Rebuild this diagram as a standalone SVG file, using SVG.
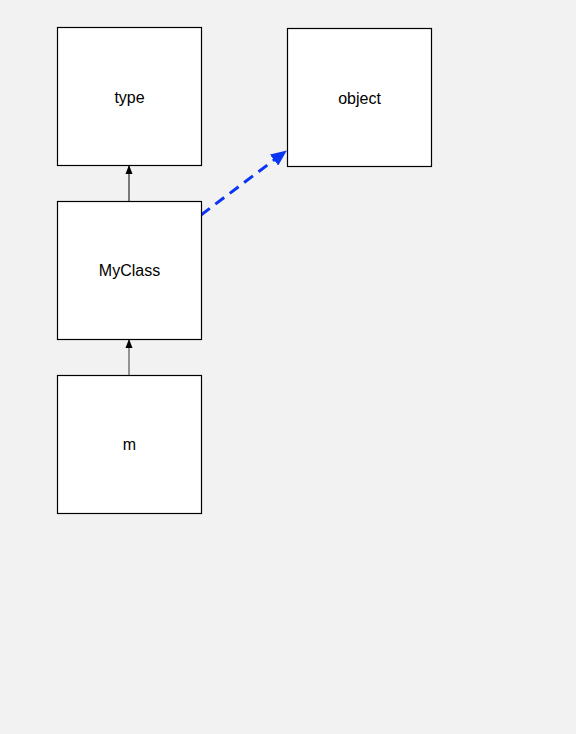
<svg xmlns="http://www.w3.org/2000/svg" width="576" height="734" viewBox="0 0 576 734">
<style>
.box{fill:#fff;stroke:#000;stroke-width:1.2}
.lbl{font-family:"Liberation Sans",Arial,sans-serif;font-size:16px;fill:#000;text-anchor:middle;dominant-baseline:central}
</style>
<defs>
<marker id="ah" markerWidth="9" markerHeight="8" refX="8" refY="4" orient="auto" markerUnits="userSpaceOnUse">
<path d="M0,0.5 L9,4 L0,7.5 Z" fill="#000"/>
</marker>
<marker id="bh" markerWidth="16" markerHeight="14" refX="15" refY="7" orient="auto" markerUnits="userSpaceOnUse">
<path d="M0,0 L16,7 L0,14 Z" fill="#0a35f5"/>
</marker>
</defs>
<rect width="576" height="734" fill="#f2f2f2"/>
<g id="connectors">
<line x1="129" y1="201" x2="129" y2="166" stroke="#000" stroke-width="1" marker-end="url(#ah)"/>
<line x1="129" y1="375" x2="129" y2="340" stroke="#555" stroke-width="1.2" marker-end="url(#ah)"/>
<line x1="201" y1="215" x2="286" y2="151" stroke="#0a35f5" stroke-width="3" stroke-dasharray="11,7" marker-end="url(#bh)"/>
</g>
<g id="type"><rect class="box" x="57.5" y="27.5" width="144" height="138"/><text class="lbl" x="129.5" y="97">type</text></g>
<g id="object"><rect class="box" x="287.5" y="28.5" width="144" height="138"/><text class="lbl" x="359.5" y="98">object</text></g>
<g id="MyClass"><rect class="box" x="57.5" y="201.5" width="144" height="138"/><text class="lbl" x="129.5" y="270">MyClass</text></g>
<g id="m"><rect class="box" x="57.5" y="375.5" width="144" height="138"/><text class="lbl" x="129.5" y="444">m</text></g>
</svg>
